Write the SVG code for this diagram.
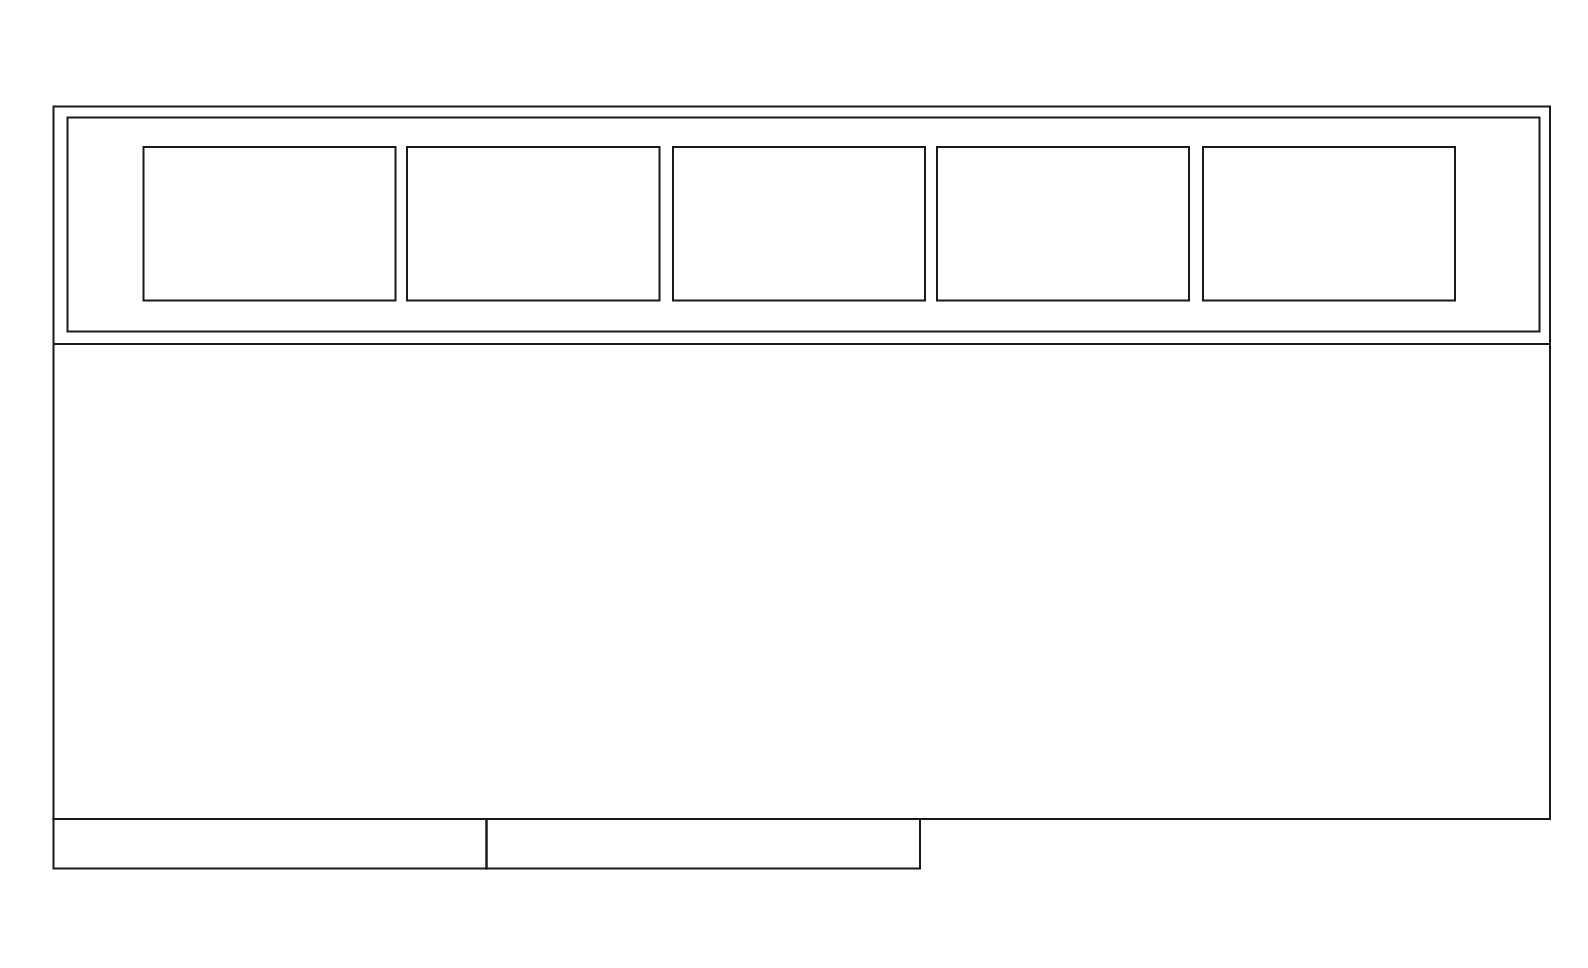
<svg xmlns="http://www.w3.org/2000/svg" width="1588" height="968" viewBox="0 0 1588 968">
<style>
rect, line { fill: none; stroke: #1a1a1a; stroke-width: 2; }
</style>
<rect x="0" y="0" width="1588" height="968" style="fill:#ffffff;stroke:none"/>
<g id="frame">
  <rect x="53.5" y="106.5" width="1496.5" height="712.5"/>
  <line x1="53.5" y1="344" x2="1550" y2="344"/>
</g>
<g id="band">
  <rect x="67.5" y="117.5" width="1472" height="214"/>
</g>
<g id="box1"><rect x="143.5" y="147" width="252" height="153.5"/></g>
<g id="box2"><rect x="407" y="147" width="252.5" height="153.5"/></g>
<g id="box3"><rect x="673" y="147" width="252" height="153.5"/></g>
<g id="box4"><rect x="937" y="147" width="252" height="153.5"/></g>
<g id="box5"><rect x="1203" y="147" width="252" height="153.5"/></g>
<g id="cell1"><rect x="53.5" y="819" width="433" height="49.5"/></g>
<g id="cell2"><rect x="486.5" y="819" width="433.5" height="49.5"/></g>
<g id="connectors"></g>
</svg>
